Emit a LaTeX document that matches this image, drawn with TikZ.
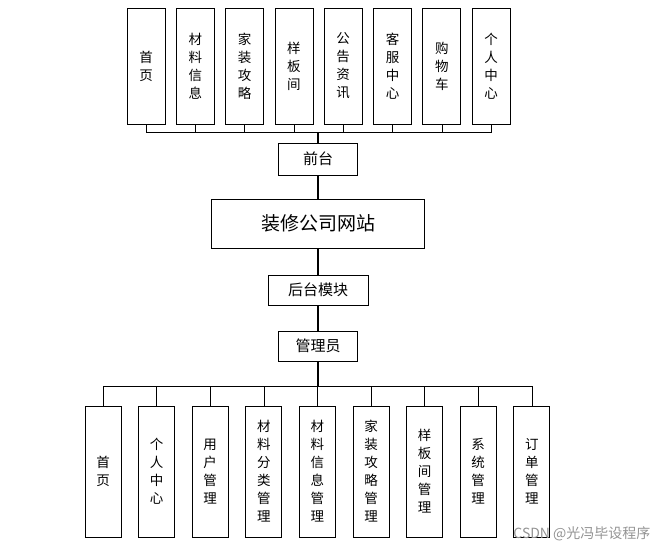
\documentclass[tikz,border=0pt]{standalone}
\usepackage{fontspec}
\setmainfont{Noto Sans CJK SC}
\begin{document}
\begin{tikzpicture}[x=1pt,y=-1pt,
  box/.style={draw,thick,fill=white,inner sep=0pt,align=center,font=\fontsize{13.5}{18}\selectfont},
  vbox/.style={box,minimum width=38pt,minimum height=116pt},
  bbox/.style={box,minimum width=36pt,minimum height=131pt},
  ln/.style={draw,line width=0.6pt},
  tk/.style={draw,line width=1.5pt}]
\useasboundingbox (0,0) rectangle (667,554);
\foreach \t [count=\i] in {首\\页,材\\料\\信\\息,家\\装\\攻\\略,样\\板\\间,公\\告\\资\\讯,客\\服\\中\\心,购\\物\\车,个\\人\\中\\心}
  \node[vbox] (t\i) at ({146+(\i-1)*49.3},66) {\t};
\node[box,minimum width=79pt,minimum height=32pt,font=\fontsize{15}{18}\selectfont] (qt) at (318,159) {前台};
\node[box,minimum width=213pt,minimum height=49pt,font=\fontsize{19}{22}\selectfont] (web) at (318,223.5) {装修公司网站};
\node[box,minimum width=100pt,minimum height=30pt,font=\fontsize{15}{18}\selectfont] (ht) at (318,290) {后台模块};
\node[box,minimum width=79pt,minimum height=30pt,font=\fontsize{15}{18}\selectfont] (gl) at (318,346) {管理员};
\foreach \t [count=\i] in {首\\页,个\\人\\中\\心,用\\户\\管\\理,材\\料\\分\\类\\管\\理,材\\料\\信\\息\\管\\理,家\\装\\攻\\略\\管\\理,样\\板\\间\\管\\理,系\\统\\管\\理,订\\单\\管\\理}
  \node[bbox] (b\i) at ({103+(\i-1)*53.6},471.5) {\t};
\coordinate (tb) at (318,132);
\coordinate (bb) at (318,386);
\foreach \i in {1,...,8} \draw[ln] (t\i.south) |- (tb);
\draw[tk] (tb) -- (qt.north);
\draw[tk] (qt.south) -- (web.north);
\draw[tk] (web.south) -- (ht.north);
\draw[tk] (ht.south) -- (gl.north);
\draw[tk] (gl.south) -- (bb);
\foreach \i in {1,...,9} \draw[ln] (b\i.north) |- (bb);
\node[anchor=east,text=gray!85,font=\fontsize{14}{16}\selectfont] (wm) at (654,534) {CSDN @光冯毕设程序};
\end{tikzpicture}
\end{document}
